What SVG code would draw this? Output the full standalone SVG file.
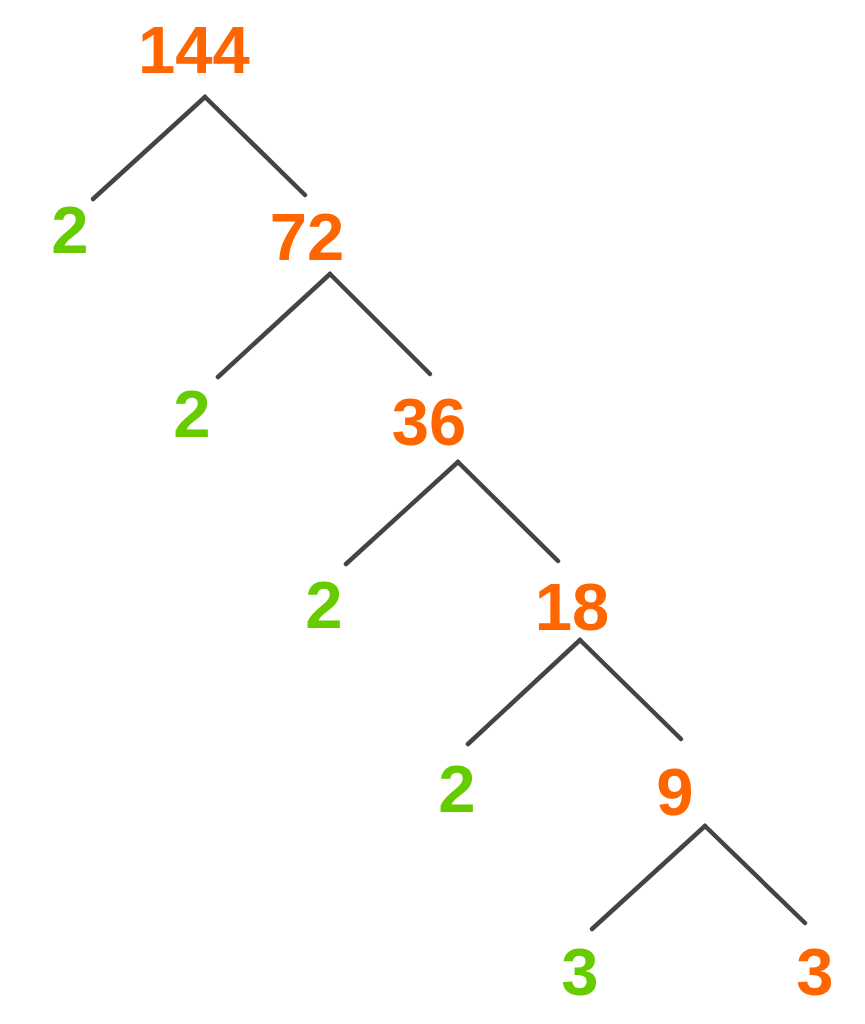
<svg xmlns="http://www.w3.org/2000/svg" width="865" height="1024" viewBox="0 0 865 1024">
<style>
text{font-family:"Liberation Sans",Arial,sans-serif;font-weight:bold;font-size:67px;text-anchor:middle}
.o{fill:#FF6600}
.g{fill:#66CC00}
.c line{stroke:#444444;stroke-width:4.5;stroke-linecap:round}
</style>
<rect width="865" height="1024" fill="#ffffff"/>
<g class="c" id="connectors">
<line x1="205" y1="97" x2="93" y2="199"/>
<line x1="205" y1="97" x2="305" y2="195"/>
<line x1="330" y1="274" x2="218" y2="377"/>
<line x1="330" y1="274" x2="430" y2="374"/>
<line x1="458" y1="462" x2="346" y2="564"/>
<line x1="458" y1="462" x2="558" y2="561"/>
<line x1="580" y1="640" x2="468" y2="744"/>
<line x1="580" y1="640" x2="681" y2="739"/>
<line x1="705" y1="826" x2="592" y2="929"/>
<line x1="705" y1="826" x2="805" y2="923"/>
</g>
<g id="n144"><text class="o" x="194" y="73">144</text></g>
<g id="n2a"><text class="g" x="70" y="253">2</text></g>
<g id="n72"><text class="o" x="307" y="260">72</text></g>
<g id="n2b"><text class="g" x="192" y="437">2</text></g>
<g id="n36"><text class="o" x="429" y="445">36</text></g>
<g id="n2c"><text class="g" x="324" y="628">2</text></g>
<g id="n18"><text class="o" x="572" y="630">18</text></g>
<g id="n2d"><text class="g" x="457" y="812">2</text></g>
<g id="n9"><text class="o" x="675" y="815">9</text></g>
<g id="n3a"><text class="g" x="580" y="995">3</text></g>
<g id="n3b"><text class="o" x="815" y="995">3</text></g>
</svg>
